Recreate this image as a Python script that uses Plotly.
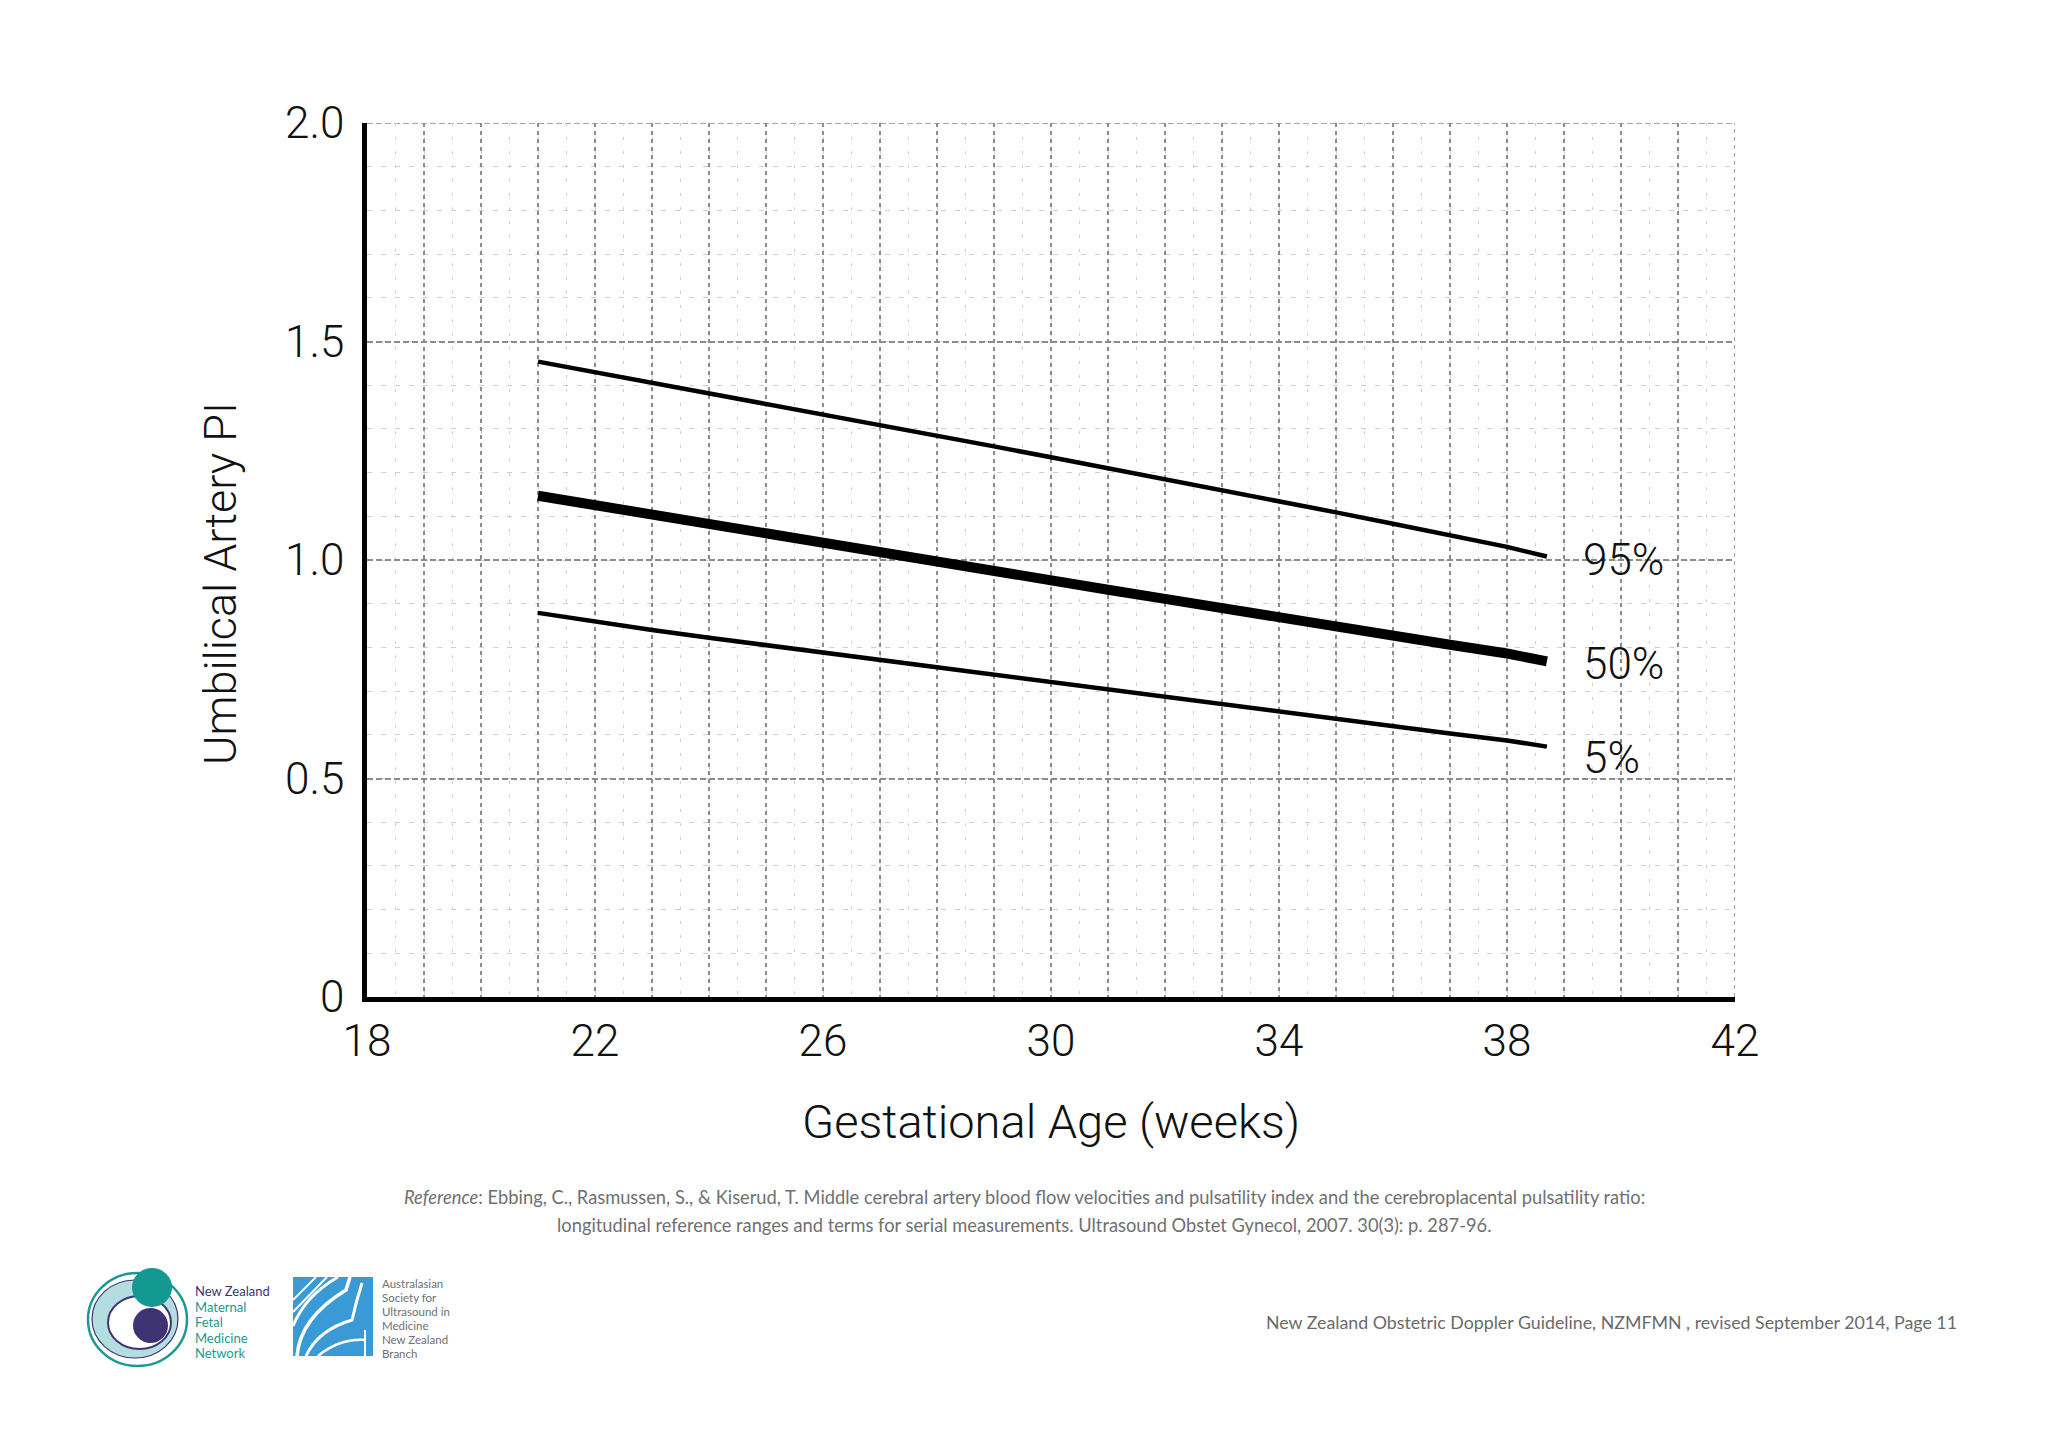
import plotly.graph_objects as go

# ---------------- data ----------------
weeks = [21, 22, 23, 24, 25, 26, 27, 28, 29, 30, 31, 32, 33, 34, 35, 36, 37, 38, 38.7]
p95 = [1.454, 1.430, 1.406, 1.381, 1.357, 1.333, 1.309, 1.284, 1.260, 1.235, 1.210,
       1.186, 1.161, 1.135, 1.109, 1.083, 1.057, 1.030, 1.008]
p50 = [1.147, 1.125, 1.103, 1.082, 1.061, 1.040, 1.018, 0.996, 0.975, 0.953, 0.932,
       0.911, 0.889, 0.868, 0.847, 0.826, 0.806, 0.786, 0.768]
p5 = [0.879, 0.859, 0.840, 0.822, 0.805, 0.788, 0.771, 0.754, 0.738, 0.721, 0.704,
      0.687, 0.670, 0.654, 0.637, 0.620, 0.603, 0.587, 0.573]
series_names = ["95%", "50%", "5%"]
x_tickvals = [18, 22, 26, 30, 34, 38, 42]
y_tickvals = [0, 0.5, 1.0, 1.5, 2.0]
y_ticktext = ["0", "0.5", "1.0", "1.5", "2.0"]
x_range = [18, 42]
y_range = [0, 2.0]

# ---------------- layout geometry (page pixel coords) ----------------
OFF = 8                     # default body margin of the html page
WF, HF = 2026, 1425         # figure size
L, R, T, B = 367, 1735, 123, 997


def pxx(x):
    return (x - L) / (R - L)


def pyy(y):
    return (B - y) / (B - T)


FONT = "Roboto"
fig = go.Figure()

for name, vals, width in [("95%", p95, 4.5), ("50%", p50, 10), ("5%", p5, 4.5)]:
    fig.add_trace(go.Scatter(x=weeks, y=vals, mode="lines", name=name,
                             line=dict(color="black", width=width),
                             showlegend=False, hoverinfo="skip"))

# labels at the end of the curves
label_y = [1.0, 0.762, 0.548]
for name, yv in zip(series_names, label_y):
    fig.add_annotation(x=39.3, y=yv, xref="x", yref="y", text=name, showarrow=False,
                       xanchor="left", yanchor="middle",
                       font=dict(family=FONT, size=44, color="#111", weight=300))

# every week gets a gridline, only every 4 weeks a label
xt_all = list(range(x_range[0], x_range[1] + 1))
xt_text = [str(v) if v in x_tickvals else "" for v in xt_all]

fig.update_xaxes(range=x_range, tickvals=xt_all, ticktext=xt_text,
                 showline=True, linecolor="black", linewidth=4.5,
                 zeroline=False, ticks="", ticklabelstandoff=1,
                 tickfont=dict(family=FONT, size=44, color="#111", weight=300),
                 showgrid=True, gridcolor="#8c8c8c", gridwidth=1.6, griddash="4px,4px",
                 minor=dict(dtick=0.5, tick0=18, showgrid=True, gridcolor="#cfcfcf",
                            gridwidth=1.3, griddash="3px,11px"))
fig.update_yaxes(range=y_range, tickvals=y_tickvals, ticktext=y_ticktext,
                 showline=True, linecolor="black", linewidth=4.5,
                 zeroline=False, ticks="", ticklabelstandoff=9,
                 tickfont=dict(family=FONT, size=44, color="#111", weight=300),
                 showgrid=True, gridcolor="#8c8c8c", gridwidth=1.6, griddash="6px,3px",
                 minor=dict(dtick=0.1, tick0=0, showgrid=True, gridcolor="#cfcfcf",
                            gridwidth=1.3, griddash="5px,9px"))

shapes = []
# dashed frame on top and right edge (grid lines at the range ends)
shapes.append(dict(type="line", xref="x", yref="y", x0=x_range[0], x1=x_range[1],
                   y0=y_range[1], y1=y_range[1],
                   line=dict(color="#8c8c8c", width=1.6, dash="6px,3px"), layer="below"))
shapes.append(dict(type="line", xref="x", yref="y", x0=x_range[1], x1=x_range[1],
                   y0=y_range[0], y1=y_range[1],
                   line=dict(color="#8c8c8c", width=1.6, dash="4px,4px"), layer="below"))

# axis titles
fig.add_annotation(x=pxx(1051), y=pyy(1121), xref="paper", yref="paper",
                   text="Gestational Age (weeks)", showarrow=False,
                   xanchor="center", yanchor="middle",
                   font=dict(family=FONT, size=47, color="#111", weight=300))
fig.add_annotation(x=pxx(220), y=pyy(584), xref="paper", yref="paper",
                   text="Umbilical Artery PI", showarrow=False, textangle=-90,
                   xanchor="center", yanchor="middle",
                   font=dict(family=FONT, size=45, color="#111", weight=300))

# reference text
ref_lines = ["<i>Reference</i>: Ebbing, C., Rasmussen, S., &amp; Kiserud, T. Middle cerebral artery blood flow velocities and pulsatility index and the cerebroplacental pulsatility ratio:",
             "longitudinal reference ranges and terms for serial measurements. Ultrasound Obstet Gynecol, 2007. 30(3): p. 287-96."]
for i, t in enumerate(ref_lines):
    fig.add_annotation(x=pxx(1024), y=pyy(1197 + i * 28), xref="paper", yref="paper",
                       text=t, showarrow=False, xanchor="center", yanchor="middle",
                       font=dict(family="Lato", size=18.3, color="#707070"))
fig.add_annotation(x=pxx(1959), y=pyy(1322), xref="paper", yref="paper",
                   text="New Zealand Obstetric Doppler Guideline, NZMFMN , revised September 2014, Page 11",
                   showarrow=False, xanchor="right", yanchor="middle",
                   font=dict(family="Lato", size=17.8, color="#6a6a6a"))

# ---------------- NZMFMN logo ----------------


def circ(x0, y0, x1, y1, fill, line_color=None, lw=0):
    shapes.append(dict(type="circle", xref="paper", yref="paper",
                       x0=pxx(x0), x1=pxx(x1), y0=pyy(y1), y1=pyy(y0),
                       fillcolor=fill, line=dict(color=line_color or fill, width=lw),
                       layer="above"))


circ(88, 1273, 187, 1366, "white", "#1a9a92", 2.5)
circ(92, 1280, 178, 1358, "#b3dde0", "#3d3470", 1.2)
circ(108, 1296, 171, 1349, "white", "#3d3470", 2)
circ(132, 1268, 172, 1307, "#13998f")
circ(133, 1308, 168, 1343, "#3e3474")

logo_lines = [("New Zealand", "#3d3470"), ("Maternal", "#1a9a92"), ("Fetal", "#1a9a92"),
              ("Medicine", "#1a9a92"), ("Network", "#1a9a92")]
for i, (t, c) in enumerate(logo_lines):
    fig.add_annotation(x=pxx(193), y=pyy(1291 + i * 15.5), xref="paper", yref="paper",
                       text=t, showarrow=False, xanchor="left", yanchor="middle",
                       font=dict(family="Lato", size=13, color=c))

# ---------------- ASUM logo ----------------
shapes.append(dict(type="rect", xref="paper", yref="paper",
                   x0=pxx(293), x1=pxx(373), y0=pyy(1356), y1=pyy(1277),
                   fillcolor="#3a9ad6", line=dict(width=0), layer="above"))


def P(x, y):
    return f"{pxx(x):.5f},{pyy(y):.5f}"


white_paths = [
    ("M" + P(293, 1300) + " L" + P(316, 1277), 2),
    ("M" + P(293, 1312) + " L" + P(327, 1277), 2),
    ("M" + P(293, 1326) + " Q" + P(305, 1296) + " " + P(338, 1277), 3),
    ("M" + P(297, 1356) + " Q" + P(300, 1318) + " " + P(346, 1290) + " L" + P(350, 1277), 3.5),
    ("M" + P(306, 1356) + " Q" + P(318, 1330) + " " + P(352, 1320) + " L" + P(357, 1300) + " L" + P(362, 1283), 3),
    ("M" + P(318, 1356) + " Q" + P(340, 1338) + " " + P(366, 1340), 2.5),
    ("M" + P(365, 1330) + " L" + P(365, 1356), 2),
]
for d, lw in white_paths:
    shapes.append(dict(type="path", xref="paper", yref="paper", path=d,
                       line=dict(color="white", width=lw), layer="above"))

asum_lines = ["Australasian", "Society for", "Ultrasound in", "Medicine", "New Zealand", "Branch"]
for i, t in enumerate(asum_lines):
    fig.add_annotation(x=pxx(380), y=pyy(1283 + i * 14), xref="paper", yref="paper",
                       text=t, showarrow=False, xanchor="left", yanchor="middle",
                       font=dict(family="Lato", size=11.5, color="#707070"))

fig.update_layout(width=WF, height=HF, shapes=shapes,
                  margin=dict(l=L - OFF, r=(OFF + WF) - R, t=T - OFF, b=(OFF + HF) - B,
                              autoexpand=False),
                  paper_bgcolor="white", plot_bgcolor="white")

fig.write_html("out.html")
